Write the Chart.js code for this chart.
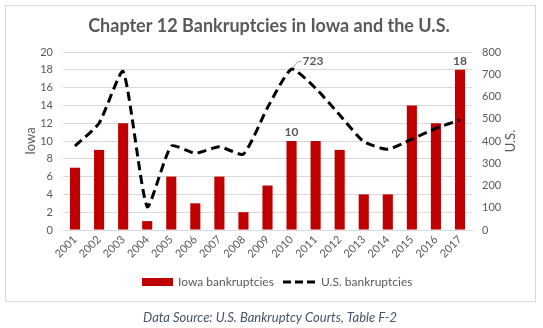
<!DOCTYPE html>
<html>
<head>
<meta charset="utf-8">
<script src="https://cdn.jsdelivr.net/npm/chart.js@4/dist/chart.umd.min.js"></script>
<style>
  html, body { margin: 0; padding: 0; background: #fff; }
  #wrap { width: 543px; height: 328px; position: relative; }
</style>
</head>
<body>
<div id="wrap"><canvas id="chartGET" width="543" height="328"></canvas></div>
<script>
// data
const years = ['2001','2002','2003','2004','2005','2006','2007','2008','2009','2010','2011','2012','2013','2014','2015','2016','2017'];
const iowaCounts = [7, 9, 12, 1, 6, 3, 6, 2, 5, 10, 10, 9, 4, 4, 14, 12, 18];
const usCounts = [377, 480, 712, 105, 377, 345, 374, 341, 550, 723, 637, 517, 397, 363, 408, 457, 495];
const iowaTicks = [0, 2, 4, 6, 8, 10, 12, 14, 16, 18, 20];
const usTicks = [0, 100, 200, 300, 400, 500, 600, 700, 800];
const iowaLabelYears = ['2010', '2017'];
const usLabelYears = ['2010'];

const FONT = 'Lato, "Open Sans", sans-serif';
const GRAY = '#595959';

const decor = {
  id: 'decor',
  beforeDraw(chart) {
    const ctx = chart.ctx;
    ctx.save();
    ctx.fillStyle = '#fff';
    ctx.fillRect(0, 0, chart.width, chart.height);
    ctx.strokeStyle = '#d9d9d9';
    ctx.lineWidth = 1;
    ctx.strokeRect(5.5, 5.5, 530, 296);
    ctx.restore();
  },
  afterDraw(chart) {
    const ctx = chart.ctx;
    const area = chart.chartArea;
    ctx.save();
    // title
    ctx.fillStyle = GRAY;
    ctx.textAlign = 'center';
    ctx.textBaseline = 'middle';
    ctx.font = 'bold 18px ' + FONT;
    ctx.fillText('Chapter 12 Bankruptcies in Iowa and the U.S.', 269, 26);

    // axis titles
    const midY = (area.top + area.bottom) / 2;
    ctx.font = '13px ' + FONT;
    ctx.save();
    ctx.translate(31, midY);
    ctx.rotate(-Math.PI / 2);
    ctx.fillText('Iowa', 0, 0);
    ctx.restore();
    ctx.save();
    ctx.translate(511, midY);
    ctx.rotate(-Math.PI / 2);
    ctx.fillText('U.S.', 0, 0);
    ctx.restore();

    // data labels
    ctx.font = 'bold 12px ' + FONT;
    ctx.textBaseline = 'bottom';
    const bars = chart.getDatasetMeta(0).data;
    iowaLabelYears.forEach(y => {
      const i = years.indexOf(y);
      const b = bars[i];
      ctx.fillText(String(iowaCounts[i]), b.x, b.y - 3);
    });
    const pts = chart.getDatasetMeta(1).data;
    usLabelYears.forEach(y => {
      const i = years.indexOf(y);
      const p = pts[i];
      ctx.strokeStyle = '#a6a6a6';
      ctx.lineWidth = 1;
      ctx.beginPath();
      ctx.moveTo(p.x + 1, p.y - 1);
      ctx.lineTo(p.x + 6, p.y - 7.5);
      ctx.lineTo(p.x + 10, p.y - 7.5);
      ctx.stroke();
      ctx.textAlign = 'left';
      ctx.textBaseline = 'middle';
      ctx.fillText(String(usCounts[i]), p.x + 11, p.y - 8);
    });

    // legend
    ctx.fillStyle = '#c00000';
    ctx.fillRect(142, 278, 31, 8);
    ctx.fillStyle = GRAY;
    ctx.font = '12px ' + FONT;
    ctx.textAlign = 'left';
    ctx.textBaseline = 'middle';
    ctx.fillText('Iowa bankruptcies', 178, 282);
    ctx.strokeStyle = '#000';
    ctx.lineWidth = 3;
    ctx.setLineDash([8, 4]);
    ctx.beginPath();
    ctx.moveTo(283, 282);
    ctx.lineTo(318, 282);
    ctx.stroke();
    ctx.setLineDash([]);
    ctx.fillText('U.S. bankruptcies', 321, 282);

    // source
    ctx.fillStyle = '#44546a';
    ctx.font = 'italic 13px ' + FONT;
    ctx.textAlign = 'center';
    ctx.fillText('Data Source: U.S. Bankruptcy Courts, Table F-2', 270, 318);
    ctx.restore();
  }
};

const ctx = document.getElementById('chartGET').getContext('2d');
const myChart = new Chart(ctx, {
  type: 'bar',
  data: {
    labels: years,
    datasets: [{
      type: 'bar',
      label: 'Iowa bankruptcies',
      data: iowaCounts,
      backgroundColor: '#c00000',
      barPercentage: 0.42,
      categoryPercentage: 1,
      yAxisID: 'y',
      order: 1
    },
    {
      type: 'line',
      label: 'U.S. bankruptcies',
      data: usCounts,
      borderColor: '#000',
      backgroundColor: 'transparent',
      borderWidth: 3,
      borderDash: [9, 5],
      pointRadius: 0,
      tension: 0.18,
      yAxisID: 'y1',
      order: 0
    }]
  },
  options: {
    responsive: false,
    animation: false,
    devicePixelRatio: 1,
    layout: { padding: { top: 52, bottom: 58, left: 0, right: 0 } },
    plugins: {
      legend: { display: false },
      title: { display: false },
      tooltip: { enabled: false }
    },
    scales: {
      x: {
        offset: true,
        grid: { display: false, drawTicks: false },
        border: { color: '#d9d9d9' },
        ticks: {
          color: GRAY,
          font: { family: FONT, size: 11 },
          minRotation: 45,
          maxRotation: 45,
          padding: 3
        },
        afterFit: s => { s.height = 40; }
      },
      y: {
        position: 'left',
        min: 0,
        max: 20,
        grid: { color: '#d9d9d9', drawTicks: false },
        border: { display: false },
        ticks: { color: GRAY, font: { family: FONT, size: 11 }, padding: 10 },
        afterBuildTicks: s => { s.ticks = iowaTicks.map(v => ({ value: v })); },
        afterFit: s => { s.width = 63; }
      },
      y1: {
        position: 'right',
        min: 0,
        max: 800,
        grid: { drawOnChartArea: false, drawTicks: false },
        border: { display: false },
        ticks: { color: GRAY, font: { family: FONT, size: 11 }, padding: 10 },
        afterBuildTicks: s => { s.ticks = usTicks.map(v => ({ value: v })); },
        afterFit: s => { s.width = 71; }
      }
    }
  },
  plugins: [decor]
});
</script>
</body>
</html>
